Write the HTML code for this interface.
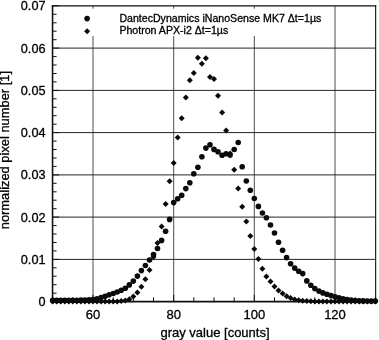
<!DOCTYPE html>
<html><head><meta charset="utf-8"><title>gray value histogram</title>
<style>
html,body{margin:0;padding:0;background:#fff;}
body{width:379px;height:340px;overflow:hidden;}
svg{display:block;}
text{font-family:"Liberation Sans",sans-serif;font-size:12px;fill:#000;stroke:#000;stroke-width:0.3px;}
</style></head><body>
<svg width="379" height="340" viewBox="0 0 379 340">
<rect width="379" height="340" fill="#fff"/>

<g stroke="#262626" stroke-width="1" fill="none">
<line x1="93.0" y1="6" x2="93.0" y2="301.6" stroke="#383838" stroke-width="0.9"/>
<line x1="173.7" y1="6" x2="173.7" y2="301.6" stroke="#383838" stroke-width="0.9"/>
<line x1="254.3" y1="6" x2="254.3" y2="301.6" stroke="#383838" stroke-width="0.9"/>
<line x1="335.0" y1="6" x2="335.0" y2="301.6" stroke="#383838" stroke-width="0.9"/>
<line x1="52.6" y1="259.4" x2="375.6" y2="259.4"/>
<line x1="52.6" y1="217.1" x2="375.6" y2="217.1"/>
<line x1="52.6" y1="174.9" x2="375.6" y2="174.9"/>
<line x1="52.6" y1="132.6" x2="375.6" y2="132.6"/>
<line x1="52.6" y1="90.4" x2="375.6" y2="90.4"/>
<line x1="52.6" y1="48.1" x2="375.6" y2="48.1"/>
</g>
<rect x="70" y="8.7" width="255" height="27.3" fill="#fff"/>
<g stroke="#111" stroke-width="1" fill="none">
<line x1="52.6" y1="301.6" x2="59.2" y2="301.6"/>
<line x1="52.6" y1="293.2" x2="56.6" y2="293.2"/>
<line x1="52.6" y1="284.7" x2="56.6" y2="284.7"/>
<line x1="52.6" y1="276.2" x2="56.6" y2="276.2"/>
<line x1="52.6" y1="267.8" x2="56.6" y2="267.8"/>
<line x1="52.6" y1="259.4" x2="59.2" y2="259.4"/>
<line x1="52.6" y1="250.9" x2="56.6" y2="250.9"/>
<line x1="52.6" y1="242.5" x2="56.6" y2="242.5"/>
<line x1="52.6" y1="234.0" x2="56.6" y2="234.0"/>
<line x1="52.6" y1="225.6" x2="56.6" y2="225.6"/>
<line x1="52.6" y1="217.1" x2="59.2" y2="217.1"/>
<line x1="52.6" y1="208.7" x2="56.6" y2="208.7"/>
<line x1="52.6" y1="200.2" x2="56.6" y2="200.2"/>
<line x1="52.6" y1="191.8" x2="56.6" y2="191.8"/>
<line x1="52.6" y1="183.3" x2="56.6" y2="183.3"/>
<line x1="52.6" y1="174.9" x2="59.2" y2="174.9"/>
<line x1="52.6" y1="166.4" x2="56.6" y2="166.4"/>
<line x1="52.6" y1="158.0" x2="56.6" y2="158.0"/>
<line x1="52.6" y1="149.5" x2="56.6" y2="149.5"/>
<line x1="52.6" y1="141.1" x2="56.6" y2="141.1"/>
<line x1="52.6" y1="132.6" x2="59.2" y2="132.6"/>
<line x1="52.6" y1="124.2" x2="56.6" y2="124.2"/>
<line x1="52.6" y1="115.7" x2="56.6" y2="115.7"/>
<line x1="52.6" y1="107.3" x2="56.6" y2="107.3"/>
<line x1="52.6" y1="98.8" x2="56.6" y2="98.8"/>
<line x1="52.6" y1="90.4" x2="59.2" y2="90.4"/>
<line x1="52.6" y1="81.9" x2="56.6" y2="81.9"/>
<line x1="52.6" y1="73.5" x2="56.6" y2="73.5"/>
<line x1="52.6" y1="65.0" x2="56.6" y2="65.0"/>
<line x1="52.6" y1="56.6" x2="56.6" y2="56.6"/>
<line x1="52.6" y1="48.1" x2="59.2" y2="48.1"/>
<line x1="52.6" y1="39.7" x2="56.6" y2="39.7"/>
<line x1="52.6" y1="31.2" x2="56.6" y2="31.2"/>
<line x1="52.6" y1="22.8" x2="56.6" y2="22.8"/>
<line x1="52.6" y1="14.3" x2="56.6" y2="14.3"/>
<line x1="52.6" y1="5.8" x2="59.2" y2="5.8"/>
<line x1="52.7" y1="301.6" x2="52.7" y2="297.3"/>
<line x1="72.8" y1="301.6" x2="72.8" y2="297.3"/>
<line x1="93.0" y1="301.6" x2="93.0" y2="294.9"/>
<line x1="113.2" y1="301.6" x2="113.2" y2="297.3"/>
<line x1="133.3" y1="301.6" x2="133.3" y2="297.3"/>
<line x1="153.5" y1="301.6" x2="153.5" y2="297.3"/>
<line x1="173.7" y1="301.6" x2="173.7" y2="294.9"/>
<line x1="193.8" y1="301.6" x2="193.8" y2="297.3"/>
<line x1="214.0" y1="301.6" x2="214.0" y2="297.3"/>
<line x1="234.2" y1="301.6" x2="234.2" y2="297.3"/>
<line x1="254.3" y1="301.6" x2="254.3" y2="294.9"/>
<line x1="274.5" y1="301.6" x2="274.5" y2="297.3"/>
<line x1="294.7" y1="301.6" x2="294.7" y2="297.3"/>
<line x1="314.8" y1="301.6" x2="314.8" y2="297.3"/>
<line x1="335.0" y1="301.6" x2="335.0" y2="294.9"/>
<line x1="355.2" y1="301.6" x2="355.2" y2="297.3"/>
<line x1="375.3" y1="301.6" x2="375.3" y2="297.3"/>
</g>
<g stroke="#111" fill="none">
<line x1="52.55" y1="5.15" x2="52.55" y2="302.5" stroke-width="1.6"/>
<line x1="51.75" y1="301.6" x2="376.2" y2="301.6" stroke-width="1.8"/>
<line x1="51.75" y1="5.85" x2="376.2" y2="5.85" stroke-width="1.4"/>
<line x1="375.65" y1="5.15" x2="375.65" y2="302.5" stroke-width="1.1"/>
</g>
<g fill="#0a0a0a">
<path d="M52.7 298.5L55.7 301.5L52.7 304.5L49.7 301.5Z"/>
<path d="M56.7 298.5L59.7 301.5L56.7 304.5L53.7 301.5Z"/>
<path d="M60.7 298.5L63.7 301.5L60.7 304.5L57.7 301.5Z"/>
<path d="M64.8 298.5L67.8 301.5L64.8 304.5L61.8 301.5Z"/>
<path d="M68.8 298.5L71.8 301.5L68.8 304.5L65.8 301.5Z"/>
<path d="M72.8 298.5L75.8 301.5L72.8 304.5L69.8 301.5Z"/>
<path d="M76.9 298.5L79.9 301.5L76.9 304.5L73.9 301.5Z"/>
<path d="M80.9 298.5L83.9 301.5L80.9 304.5L77.9 301.5Z"/>
<path d="M84.9 298.5L87.9 301.5L84.9 304.5L81.9 301.5Z"/>
<path d="M89.0 298.5L92.0 301.5L89.0 304.5L86.0 301.5Z"/>
<path d="M93.0 298.5L96.0 301.5L93.0 304.5L90.0 301.5Z"/>
<path d="M97.0 298.5L100.0 301.5L97.0 304.5L94.0 301.5Z"/>
<path d="M101.1 298.5L104.1 301.5L101.1 304.5L98.1 301.5Z"/>
<path d="M105.1 298.5L108.1 301.5L105.1 304.5L102.1 301.5Z"/>
<path d="M109.1 298.5L112.1 301.5L109.1 304.5L106.1 301.5Z"/>
<path d="M113.2 298.5L116.2 301.5L113.2 304.5L110.2 301.5Z"/>
<path d="M117.2 298.4L120.2 301.4L117.2 304.4L114.2 301.4Z"/>
<path d="M121.2 298.1L124.2 301.1L121.2 304.1L118.2 301.1Z"/>
<path d="M125.3 297.6L128.3 300.6L125.3 303.6L122.3 300.6Z"/>
<path d="M129.3 296.2L132.3 299.2L129.3 302.2L126.3 299.2Z"/>
<path d="M133.3 293.4L136.3 296.4L133.3 299.4L130.3 296.4Z"/>
<path d="M137.4 289.6L140.4 292.6L137.4 295.6L134.4 292.6Z"/>
<path d="M141.4 283.8L144.4 286.8L141.4 289.8L138.4 286.8Z"/>
<path d="M145.4 276.3L148.4 279.3L145.4 282.3L142.4 279.3Z"/>
<path d="M149.5 267.0L152.5 270.0L149.5 273.0L146.5 270.0Z"/>
<path d="M153.5 254.0L156.5 257.0L153.5 260.0L150.5 257.0Z"/>
<path d="M157.5 239.9L160.5 242.9L157.5 245.9L154.5 242.9Z"/>
<path d="M161.6 223.5L164.6 226.5L161.6 229.5L158.6 226.5Z"/>
<path d="M165.6 201.1L168.6 204.1L165.6 207.1L162.6 204.1Z"/>
<path d="M169.6 178.3L172.6 181.3L169.6 184.3L166.6 181.3Z"/>
<path d="M173.7 160.1L176.7 163.1L173.7 166.1L170.7 163.1Z"/>
<path d="M177.7 134.5L180.7 137.5L177.7 140.5L174.7 137.5Z"/>
<path d="M181.7 115.3L184.7 118.3L181.7 121.3L178.7 118.3Z"/>
<path d="M185.8 94.4L188.8 97.4L185.8 100.4L182.8 97.4Z"/>
<path d="M189.8 77.2L192.8 80.2L189.8 83.2L186.8 80.2Z"/>
<path d="M193.8 70.1L196.8 73.1L193.8 76.1L190.8 73.1Z"/>
<path d="M197.9 54.7L200.9 57.7L197.9 60.7L194.9 57.7Z"/>
<path d="M201.9 60.8L204.9 63.8L201.9 66.8L198.9 63.8Z"/>
<path d="M205.9 55.3L208.9 58.3L205.9 61.3L202.9 58.3Z"/>
<path d="M210.0 74.0L213.0 77.0L210.0 80.0L207.0 77.0Z"/>
<path d="M214.0 75.9L217.0 78.9L214.0 81.9L211.0 78.9Z"/>
<path d="M218.0 92.8L221.0 95.8L218.0 98.8L215.0 95.8Z"/>
<path d="M222.1 109.4L225.1 112.4L222.1 115.4L219.1 112.4Z"/>
<path d="M226.1 127.4L229.1 130.4L226.1 133.4L223.1 130.4Z"/>
<path d="M230.1 150.6L233.1 153.6L230.1 156.6L227.1 153.6Z"/>
<path d="M234.2 166.7L237.2 169.7L234.2 172.7L231.2 169.7Z"/>
<path d="M238.2 185.4L241.2 188.4L238.2 191.4L235.2 188.4Z"/>
<path d="M242.2 203.7L245.2 206.7L242.2 209.7L239.2 206.7Z"/>
<path d="M246.3 218.4L249.3 221.4L246.3 224.4L243.3 221.4Z"/>
<path d="M250.3 232.9L253.3 235.9L250.3 238.9L247.3 235.9Z"/>
<path d="M254.3 245.9L257.3 248.9L254.3 251.9L251.3 248.9Z"/>
<path d="M258.4 255.9L261.4 258.9L258.4 261.9L255.4 258.9Z"/>
<path d="M262.4 265.7L265.4 268.7L262.4 271.7L259.4 268.7Z"/>
<path d="M266.4 273.4L269.4 276.4L266.4 279.4L263.4 276.4Z"/>
<path d="M270.5 278.4L273.5 281.4L270.5 284.4L267.5 281.4Z"/>
<path d="M274.5 283.5L277.5 286.5L274.5 289.5L271.5 286.5Z"/>
<path d="M278.5 287.4L281.5 290.4L278.5 293.4L275.5 290.4Z"/>
<path d="M282.6 290.5L285.6 293.5L282.6 296.5L279.6 293.5Z"/>
<path d="M286.6 293.3L289.6 296.3L286.6 299.3L283.6 296.3Z"/>
<path d="M290.6 295.0L293.6 298.0L290.6 301.0L287.6 298.0Z"/>
<path d="M294.7 296.4L297.7 299.4L294.7 302.4L291.7 299.4Z"/>
<path d="M298.7 297.3L301.7 300.3L298.7 303.3L295.7 300.3Z"/>
<path d="M302.7 297.8L305.7 300.8L302.7 303.8L299.7 300.8Z"/>
<path d="M306.8 298.1L309.8 301.1L306.8 304.1L303.8 301.1Z"/>
<path d="M310.8 298.3L313.8 301.3L310.8 304.3L307.8 301.3Z"/>
<path d="M314.8 298.5L317.8 301.5L314.8 304.5L311.8 301.5Z"/>
<path d="M318.9 298.5L321.9 301.5L318.9 304.5L315.9 301.5Z"/>
<path d="M322.9 298.5L325.9 301.5L322.9 304.5L319.9 301.5Z"/>
<path d="M326.9 298.5L329.9 301.5L326.9 304.5L323.9 301.5Z"/>
<path d="M331.0 298.5L334.0 301.5L331.0 304.5L328.0 301.5Z"/>
<path d="M335.0 298.5L338.0 301.5L335.0 304.5L332.0 301.5Z"/>
<path d="M339.0 298.5L342.0 301.5L339.0 304.5L336.0 301.5Z"/>
<path d="M343.1 298.5L346.1 301.5L343.1 304.5L340.1 301.5Z"/>
<path d="M347.1 298.5L350.1 301.5L347.1 304.5L344.1 301.5Z"/>
<path d="M351.1 298.5L354.1 301.5L351.1 304.5L348.1 301.5Z"/>
<path d="M355.2 298.5L358.2 301.5L355.2 304.5L352.2 301.5Z"/>
<path d="M359.2 298.5L362.2 301.5L359.2 304.5L356.2 301.5Z"/>
<path d="M363.2 298.5L366.2 301.5L363.2 304.5L360.2 301.5Z"/>
<path d="M367.3 298.5L370.3 301.5L367.3 304.5L364.3 301.5Z"/>
<path d="M371.3 298.5L374.3 301.5L371.3 304.5L368.3 301.5Z"/>
<path d="M375.3 298.5L378.3 301.5L375.3 304.5L372.3 301.5Z"/>
<circle cx="52.7" cy="300.4" r="2.8"/>
<circle cx="56.7" cy="300.4" r="2.8"/>
<circle cx="60.7" cy="300.4" r="2.8"/>
<circle cx="64.8" cy="300.3" r="2.8"/>
<circle cx="68.8" cy="300.3" r="2.8"/>
<circle cx="72.8" cy="300.2" r="2.8"/>
<circle cx="76.9" cy="300.2" r="2.8"/>
<circle cx="80.9" cy="300.1" r="2.8"/>
<circle cx="84.9" cy="300.0" r="2.8"/>
<circle cx="89.0" cy="299.9" r="2.8"/>
<circle cx="93.0" cy="299.6" r="2.8"/>
<circle cx="97.0" cy="298.8" r="2.8"/>
<circle cx="101.1" cy="297.6" r="2.8"/>
<circle cx="105.1" cy="296.2" r="2.8"/>
<circle cx="109.1" cy="294.8" r="2.8"/>
<circle cx="113.2" cy="293.5" r="2.8"/>
<circle cx="117.2" cy="292.0" r="2.8"/>
<circle cx="121.2" cy="290.2" r="2.8"/>
<circle cx="125.3" cy="288.2" r="2.8"/>
<circle cx="129.3" cy="284.9" r="2.8"/>
<circle cx="133.3" cy="281.1" r="2.8"/>
<circle cx="137.4" cy="276.1" r="2.8"/>
<circle cx="141.4" cy="270.6" r="2.8"/>
<circle cx="145.4" cy="265.5" r="2.8"/>
<circle cx="149.5" cy="260.0" r="2.8"/>
<circle cx="153.5" cy="254.5" r="2.8"/>
<circle cx="157.5" cy="248.5" r="2.8"/>
<circle cx="161.6" cy="240.4" r="2.8"/>
<circle cx="165.6" cy="231.2" r="2.8"/>
<circle cx="169.6" cy="219.4" r="2.8"/>
<circle cx="173.7" cy="202.6" r="2.8"/>
<circle cx="177.7" cy="198.8" r="2.8"/>
<circle cx="181.7" cy="195.2" r="2.8"/>
<circle cx="185.8" cy="188.6" r="2.8"/>
<circle cx="189.8" cy="182.8" r="2.8"/>
<circle cx="193.8" cy="173.8" r="2.8"/>
<circle cx="197.9" cy="167.2" r="2.8"/>
<circle cx="201.9" cy="156.8" r="2.8"/>
<circle cx="205.9" cy="148.1" r="2.8"/>
<circle cx="210.0" cy="144.7" r="2.8"/>
<circle cx="214.0" cy="149.4" r="2.8"/>
<circle cx="218.0" cy="151.8" r="2.8"/>
<circle cx="222.1" cy="155.2" r="2.8"/>
<circle cx="226.1" cy="153.7" r="2.8"/>
<circle cx="230.1" cy="155.1" r="2.8"/>
<circle cx="234.2" cy="149.5" r="2.8"/>
<circle cx="238.2" cy="142.5" r="2.8"/>
<circle cx="242.2" cy="166.7" r="2.8"/>
<circle cx="246.3" cy="181.0" r="2.8"/>
<circle cx="250.3" cy="190.3" r="2.8"/>
<circle cx="254.3" cy="198.5" r="2.8"/>
<circle cx="258.4" cy="206.4" r="2.8"/>
<circle cx="262.4" cy="213.0" r="2.8"/>
<circle cx="266.4" cy="217.7" r="2.8"/>
<circle cx="270.5" cy="225.0" r="2.8"/>
<circle cx="274.5" cy="233.0" r="2.8"/>
<circle cx="278.5" cy="242.2" r="2.8"/>
<circle cx="282.6" cy="250.2" r="2.8"/>
<circle cx="286.6" cy="257.6" r="2.8"/>
<circle cx="290.6" cy="263.7" r="2.8"/>
<circle cx="294.7" cy="268.1" r="2.8"/>
<circle cx="298.7" cy="271.3" r="2.8"/>
<circle cx="302.7" cy="273.6" r="2.8"/>
<circle cx="306.8" cy="280.9" r="2.8"/>
<circle cx="310.8" cy="285.3" r="2.8"/>
<circle cx="314.8" cy="288.6" r="2.8"/>
<circle cx="318.9" cy="291.1" r="2.8"/>
<circle cx="322.9" cy="292.9" r="2.8"/>
<circle cx="326.9" cy="294.3" r="2.8"/>
<circle cx="331.0" cy="295.6" r="2.8"/>
<circle cx="335.0" cy="296.8" r="2.8"/>
<circle cx="339.0" cy="297.9" r="2.8"/>
<circle cx="343.1" cy="298.8" r="2.8"/>
<circle cx="347.1" cy="299.6" r="2.8"/>
<circle cx="351.1" cy="300.1" r="2.8"/>
<circle cx="355.2" cy="300.5" r="2.8"/>
<circle cx="359.2" cy="300.7" r="2.8"/>
<circle cx="363.2" cy="300.9" r="2.8"/>
<circle cx="367.3" cy="301.0" r="2.8"/>
<circle cx="371.3" cy="301.1" r="2.8"/>
<circle cx="375.3" cy="301.1" r="2.8"/>
<circle cx="87.1" cy="18.6" r="2.8"/>
<path d="M87.1 28.3L90.1 31.3L87.1 34.3L84.1 31.3Z"/>
</g>
<text x="119.4" y="21.9" style="font-size:10.6px">DantecDynamics iNanoSense MK7 Δt=1µs</text>
<text x="119.4" y="34.2" style="font-size:10.6px">Photron APX-i2 Δt=1µs</text>
<text x="45.5" y="306.0" text-anchor="end" style="font-size:12.7px">0</text>
<text x="45.5" y="263.8" text-anchor="end" style="font-size:12.7px">0.01</text>
<text x="45.5" y="221.5" text-anchor="end" style="font-size:12.7px">0.02</text>
<text x="45.5" y="179.3" text-anchor="end" style="font-size:12.7px">0.03</text>
<text x="45.5" y="137.0" text-anchor="end" style="font-size:12.7px">0.04</text>
<text x="45.5" y="94.8" text-anchor="end" style="font-size:12.7px">0.05</text>
<text x="45.5" y="52.5" text-anchor="end" style="font-size:12.7px">0.06</text>
<text x="45.5" y="10.2" text-anchor="end" style="font-size:12.7px">0.07</text>
<text x="93.0" y="318.7" text-anchor="middle" style="font-size:13px">60</text>
<text x="173.7" y="318.7" text-anchor="middle" style="font-size:13px">80</text>
<text x="254.3" y="318.7" text-anchor="middle" style="font-size:13px">100</text>
<text x="335.0" y="318.7" text-anchor="middle" style="font-size:13px">120</text>
<text x="215" y="337.0" text-anchor="middle" style="font-size:13px">gray value [counts]</text>
<text transform="translate(9.1 150.1) rotate(-90)" text-anchor="middle" style="font-size:12.9px">normalized pixel number [1]</text>
</svg>
</body></html>
